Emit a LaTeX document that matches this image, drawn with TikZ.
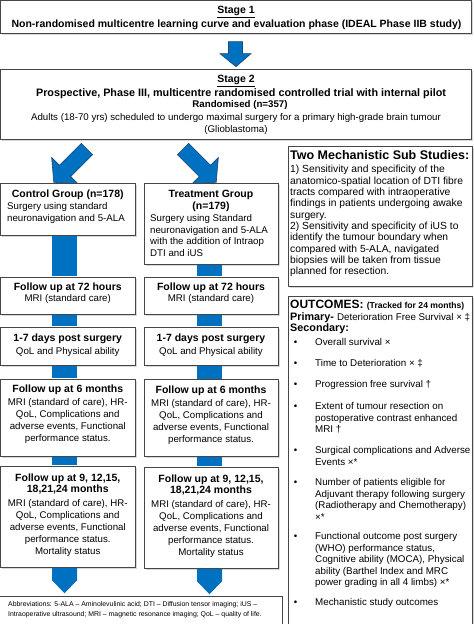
\documentclass[tikz,border=0pt]{standalone}
\usepackage{fontspec}
\setmainfont{Liberation Sans}
\usetikzlibrary{shadows,calc}
\definecolor{arrowblue}{RGB}{0,112,192}
\definecolor{arrowedge}{RGB}{31,70,110}
\definecolor{boxline}{RGB}{70,70,70}
\newcommand\fsz[2]{\fontsize{#1}{#2}\selectfont}
\begin{document}
\begin{tikzpicture}[x=1pt,y=-1pt,
  box/.style={draw=boxline, line width=0.7pt, fill=white, inner sep=0pt,
    drop shadow={shadow xshift=1.5pt, shadow yshift=-1.5pt, fill=black!30}},
  hd/.style={inner sep=0pt, font=\fsz{10.5}{12}\bfseries},
  ttl/.style={inner sep=0pt, font=\fsz{10.5}{11.5}\bfseries, align=center},
  bodyc/.style={inner sep=0pt, font=\fsz{9.7}{12}, align=center},
  bodyl/.style={inner sep=0pt, font=\fsz{9.7}{11.5}, align=left},
  blk/.style={fill=arrowblue, draw=arrowedge, line width=0.6pt, line join=miter},
  bar/.style={draw=arrowblue, line width=25pt, shorten <=0.4pt, shorten >=0.4pt},
  outl/.style={inner sep=0pt, font=\fsz{9.8}{11.5}, align=left, anchor=north west}]
\useasboundingbox (0,0) rectangle (474,624);
\clip (0,0) rectangle (474,624);

% ---------- Stage 1 ----------
\node[box, minimum width=471pt, minimum height=33pt] (s1) at (235.5,16.8) {};
\node[hd, anchor=base] (s1a) at (236,13.8) {\underline{Stage 1}};
\node[hd, anchor=base] (s1b) at (236.5,27.8) {Non-randomised multicentre learning curve and evaluation phase (IDEAL Phase IIB study)};

% ---------- Stage 2 ----------
\node[box, minimum width=471pt, minimum height=70pt] (s2) at (236,104) {};
\node[hd, anchor=base] (s2a) at (236,82.8) {\underline{Stage 2}};
\node[hd, anchor=base, font=\fsz{10.8}{12}\bfseries] (s2b) at (241,96.9) {Prospective, Phase III, multicentre randomised controlled trial with internal pilot};
\node[hd, anchor=base, font=\fsz{9.7}{12}\bfseries] (s2c) at (240,107.5) {Randomised (n=357)};
\node[bodyc, anchor=base] (s2d) at (236,120.5) {Adults (18-70 yrs) scheduled to undergo maximal surgery for a primary high-grade brain tumour};
\node[bodyc, anchor=base] (s2e) at (236,132.5) {(Glioblastoma)};

% top block arrow from Stage 1 to Stage 2
\coordinate (a0) at ([yshift=-8pt]s1.south);
\coordinate (a1) at ([yshift=2pt]s2.north);
\draw[blk] (a0) ++(-7,0) -- ++(14,0) -- ++(0,12) -- ++(8.5,0) -- (a1)
  -- ([xshift=-15.5pt,yshift=-20pt]s1.south) -- ([xshift=-7pt,yshift=-20pt]s1.south) -- cycle;

% diagonal block arrows
\begin{scope}[shift={(87,149)}, rotate=-45]
  \draw[blk] (-8,0) -- (8,0) -- (8,31) -- (19,31) -- (0,47) -- (-19,31) -- (-8,31) -- cycle;
\end{scope}
\begin{scope}[shift={(183,149)}, rotate=45]
  \draw[blk] (-8,0) -- (8,0) -- (8,31) -- (19,31) -- (0,47) -- (-19,31) -- (-8,31) -- cycle;
\end{scope}

% ---------- Control column ----------
\coordinate (cx) at (64.5,0);
\coordinate (tx) at (209.5,0);

\node[box, minimum width=134.5pt, minimum height=52pt] (cg) at (67.75,209) {};
\node[ttl, anchor=base] (cgt) at (67.75,197.8) {Control Group (n=178)};
\node[bodyl, anchor=north west] (cgb) at (7,202.5) {Surgery using standard\\neuronavigation and 5-ALA};

\node[box, minimum width=134.5pt, minimum height=37pt] (c72) at (67.75,295.5) {};
\node[ttl, anchor=base] (c72t) at (67.75,290.8) {Follow up at 72 hours};
\node[bodyc, anchor=base] (c72b) at (67.75,301.5) {MRI (standard care)};

\node[box, minimum width=134.5pt, minimum height=38pt] (c17) at (67.75,346) {};
\node[ttl, anchor=base] (c17t) at (67.75,341.8) {1-7 days post surgery};
\node[bodyc, anchor=base] (c17b) at (67.75,354) {QoL and Physical ability};

\node[box, minimum width=134.5pt, minimum height=77pt] (c6) at (67.75,417.5) {};
\node[ttl, anchor=base] (c6t) at (67.75,392.8) {Follow up at 6 months};
\node[bodyc, anchor=north] (c6b) at (67.75,398.5) {MRI (standard of care), HR-\\QoL, Complications and\\adverse events, Functional\\performance status.};

\node[box, minimum width=134.5pt, minimum height=101pt] (c9) at (67.75,516.5) {};
\node[ttl, anchor=north] (c9t) at (67.75,473.2) {Follow up at 9, 12,15,\\18,21,24 months};
\node[bodyc, anchor=north] (c9b) at (67.75,499.5) {MRI (standard of care), HR-\\QoL, Complications and\\adverse events, Functional\\performance status.\\Mortality status};

% ---------- Treatment column ----------
\node[box, minimum width=134pt, minimum height=81pt] (tg) at (211,223.5) {};
\node[ttl, anchor=north] (tgt) at (211,190.2) {Treatment Group\\(n=179)};
\node[bodyl, anchor=north west] (tgb) at (150,214.5) {Surgery using Standard\\neuronavigation and 5-ALA\\with the addition of Intraop\\DTI and iUS};

\node[box, minimum width=134pt, minimum height=37pt] (t72) at (211,295.5) {};
\node[ttl, anchor=base] (t72t) at (211,290.8) {Follow up at 72 hours};
\node[bodyc, anchor=base] (t72b) at (211,301.5) {MRI (standard care)};

\node[box, minimum width=134pt, minimum height=38pt] (t17) at (211,346) {};
\node[ttl, anchor=base] (t17t) at (211,341.8) {1-7 days post surgery};
\node[bodyc, anchor=base] (t17b) at (211,354) {QoL and Physical ability};

\node[box, minimum width=134pt, minimum height=77pt] (t6) at (211,418) {};
\node[ttl, anchor=base] (t6t) at (211,393.3) {Follow up at 6 months};
\node[bodyc, anchor=north] (t6b) at (211,399) {MRI (standard of care), HR-\\QoL, Complications and\\adverse events, Functional\\performance status.};

\node[box, minimum width=134pt, minimum height=101pt] (t9) at (211,517.5) {};
\node[ttl, anchor=north] (t9t) at (211,474.2) {Follow up at 9, 12,15,\\18,21,24 months};
\node[bodyc, anchor=north] (t9b) at (211,500.5) {MRI (standard of care), HR-\\QoL, Complications and\\adverse events, Functional\\performance status.\\Mortality status};

% ---------- connectors (blue bars) ----------
\draw[bar] (cg.south -| cx) -- (c72.north -| cx);
\draw[bar] (c72.south -| cx) -- (c17.north -| cx);
\draw[bar] (c17.south -| cx) -- (c6.north -| cx);
\draw[bar] (c6.south -| cx) -- (c9.north -| cx);
\draw[bar] (tg.south -| tx) -- (t72.north -| tx);
\draw[bar] (t72.south -| tx) -- (t17.north -| tx);
\draw[bar] (t17.south -| tx) -- (t6.north -| tx);
\draw[bar] (t6.south -| tx) -- (t9.north -| tx);
\fill[arrowblue] ([yshift=-0.4pt]c9.south -| cx) ++(-12.5,0) -- ++(25,0) -- ++(0,12.5) -- ++(-12.5,13) -- ++(-12.5,-13) -- cycle;
\fill[arrowblue] ([yshift=-0.4pt]t9.south -| tx) ++(-12.5,0) -- ++(25,0) -- ++(0,12.5) -- ++(-12.5,13) -- ++(-12.5,-13) -- cycle;

% ---------- Abbreviations ----------
\node[draw=boxline, line width=0.7pt, inner sep=0pt, minimum width=285pt, minimum height=60pt, anchor=north west] (ab) at (-3,596) {};
\node[inner sep=0pt, anchor=north west, align=left, font=\fsz{6.9}{10}] (abt) at (8,601.3) {Abbreviations: 5-ALA -- Aminolevulinic acid; DTI -- Diffusion tensor imaging; iUS --\\Intraoperative ultrasound; MRI -- magnetic resonance imaging; QoL -- quality of life.};

% ---------- Mechanistic sub studies ----------
\node[box, minimum width=184pt, minimum height=140pt] (mech) at (380,216) {};
\node[inner sep=0pt, anchor=base west, font=\fsz{12.5}{13}\bfseries] (mecht) at (290,159.5) {Two Mechanistic Sub Studies:};
\node[inner sep=0pt, anchor=north west, align=left, font=\fsz{10.3}{11.3}] (mechb) at (290,165.3) {1) Sensitivity and specificity of the\\anatomico-spatial location of DTI fibre\\tracts compared with intraoperative\\findings in patients undergoing awake\\surgery.\\2) Sensitivity and specificity of iUS to\\identify the tumour boundary when\\compared with 5-ALA, navigated\\biopsies will be taken from tissue\\planned for resection.};

% ---------- Outcomes ----------
\node[box, minimum width=184pt, minimum height=380pt, anchor=north] (outc) at (380,296) {};
\node[inner sep=0pt, anchor=base west] (o0) at (290,308.5) {\fsz{12}{13}\bfseries OUTCOMES: \fsz{8.6}{12}(Tracked for 24 months)};
\node[inner sep=0pt, anchor=base west] (o1) at (290,320) {\fsz{10.8}{12}\bfseries Primary- \fsz{9.8}{12}\mdseries Deterioration Free Survival × ‡};
\node[inner sep=0pt, anchor=base west, font=\fsz{10.8}{12}\bfseries] (o2) at (290,331.5) {Secondary:};
\node[outl] (b1) at (315,338.5) {\llap{\textbullet\hspace{18pt}}Overall survival ×};
\node[outl] (b2) at (315,359.5) {\llap{\textbullet\hspace{18pt}}Time to Deterioration × ‡};
\node[outl] (b3) at (315,380.5) {\llap{\textbullet\hspace{18pt}}Progression free survival †};
\node[outl] (b4) at (315,402.5) {\llap{\textbullet\hspace{18pt}}Extent of tumour resection on\\postoperative contrast enhanced\\MRI †};
\node[outl] (b5) at (315,446.5) {\llap{\textbullet\hspace{18pt}}Surgical complications and Adverse\\Events ×*};
\node[outl] (b6) at (315,478.5) {\llap{\textbullet\hspace{18pt}}Number of patients eligible for\\Adjuvant therapy following surgery\\(Radiotherapy and Chemotherapy)\\×*};
\node[outl] (b7) at (315,532.5) {\llap{\textbullet\hspace{18pt}}Functional outcome post surgery\\(WHO) performance status,\\Cognitive ability (MOCA), Physical\\ability (Barthel Index and MRC\\power grading in all 4 limbs) ×*};
\node[outl] (b8) at (315,598.5) {\llap{\textbullet\hspace{18pt}}Mechanistic study outcomes};
\end{tikzpicture}
\end{document}
